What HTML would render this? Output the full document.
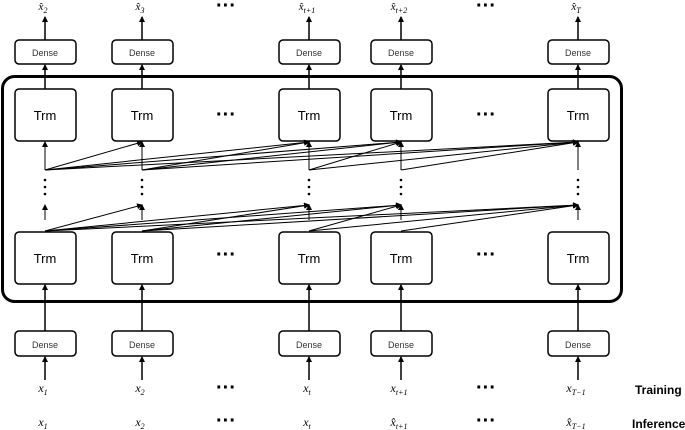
<!DOCTYPE html>
<html><head><style>body{margin:0;background:#fff}svg{display:block}</style></head><body>
<svg width="685" height="430" viewBox="0 0 685 430" xmlns="http://www.w3.org/2000/svg" font-family="Liberation Sans, sans-serif">
<defs><marker id="a" markerWidth="6" markerHeight="6" refX="5" refY="3" orient="auto" markerUnits="userSpaceOnUse"><path d="M0,0L6,3L0,6z" fill="#000"/></marker></defs>
<rect x="2.5" y="76.5" width="619" height="225" rx="12" fill="none" stroke="#000" stroke-width="3"/>
<g stroke="#000" fill="#fff" stroke-width="1.5">
<rect x="15" y="40" width="61" height="24" rx="4"/><rect x="112" y="40" width="61" height="24" rx="4"/><rect x="279" y="40" width="61" height="24" rx="4"/><rect x="371" y="40" width="61" height="24" rx="4"/><rect x="548" y="40" width="61" height="24" rx="4"/>
<rect x="15" y="89" width="61" height="52" rx="4"/><rect x="112" y="89" width="61" height="52" rx="4"/><rect x="279" y="89" width="61" height="52" rx="4"/><rect x="371" y="89" width="61" height="52" rx="4"/><rect x="548" y="89" width="61" height="52" rx="4"/>
<rect x="15" y="232" width="61" height="52" rx="4"/><rect x="112" y="232" width="61" height="52" rx="4"/><rect x="279" y="232" width="61" height="52" rx="4"/><rect x="371" y="232" width="61" height="52" rx="4"/><rect x="548" y="232" width="61" height="52" rx="4"/>
<rect x="15" y="331" width="61" height="25" rx="4"/><rect x="112" y="331" width="61" height="25" rx="4"/><rect x="279" y="331" width="61" height="25" rx="4"/><rect x="371" y="331" width="61" height="25" rx="4"/><rect x="548" y="331" width="61" height="25" rx="4"/>
</g>
<g stroke="#000" stroke-width="1.5" marker-end="url(#a)">
<line x1="45" y1="40" x2="45" y2="17"/><line x1="142" y1="40" x2="142" y2="17"/><line x1="309" y1="40" x2="309" y2="17"/><line x1="401" y1="40" x2="401" y2="17"/><line x1="578" y1="40" x2="578" y2="17"/>
<line x1="45" y1="89" x2="45" y2="65"/><line x1="142" y1="89" x2="142" y2="65"/><line x1="309" y1="89" x2="309" y2="65"/><line x1="401" y1="89" x2="401" y2="65"/><line x1="578" y1="89" x2="578" y2="65"/>
<line x1="45" y1="331" x2="45" y2="285"/><line x1="142" y1="331" x2="142" y2="285"/><line x1="309" y1="331" x2="309" y2="285"/><line x1="401" y1="331" x2="401" y2="285"/><line x1="578" y1="331" x2="578" y2="285"/>
<line x1="45" y1="380" x2="45" y2="357"/><line x1="142" y1="380" x2="142" y2="357"/><line x1="309" y1="380" x2="309" y2="357"/><line x1="401" y1="380" x2="401" y2="357"/><line x1="578" y1="380" x2="578" y2="357"/>
</g>
<g stroke="#000" stroke-width="1" marker-end="url(#a)">
<line x1="45" y1="170" x2="45" y2="142"/><line x1="142" y1="170" x2="142" y2="142"/><line x1="309" y1="170" x2="309" y2="142"/><line x1="401" y1="170" x2="401" y2="142"/><line x1="578" y1="170" x2="578" y2="142"/>
<line x1="45" y1="220" x2="45" y2="205"/><line x1="142" y1="220" x2="142" y2="205"/><line x1="309" y1="220" x2="309" y2="205"/><line x1="401" y1="220" x2="401" y2="205"/><line x1="578" y1="220" x2="578" y2="205"/>
<line x1="45" y1="170" x2="142" y2="142"/><line x1="45" y1="170" x2="309" y2="142"/><line x1="45" y1="170" x2="401" y2="142"/><line x1="45" y1="170" x2="578" y2="142"/>
<line x1="142" y1="170" x2="309" y2="142"/><line x1="142" y1="170" x2="401" y2="142"/><line x1="142" y1="170" x2="578" y2="142"/>
<line x1="309" y1="170" x2="401" y2="142"/><line x1="309" y1="170" x2="578" y2="142"/><line x1="401" y1="170" x2="578" y2="142"/>
<line x1="45" y1="231" x2="142" y2="205"/><line x1="45" y1="231" x2="309" y2="205"/><line x1="45" y1="231" x2="401" y2="205"/><line x1="45" y1="231" x2="578" y2="205"/>
<line x1="142" y1="231" x2="309" y2="205"/><line x1="142" y1="231" x2="401" y2="205"/><line x1="142" y1="231" x2="578" y2="205"/>
<line x1="309" y1="231" x2="401" y2="205"/><line x1="309" y1="231" x2="578" y2="205"/><line x1="401" y1="231" x2="578" y2="205"/>
</g>
<g fill="#000">
<circle cx="45" cy="180" r="1.3"/><circle cx="45" cy="187" r="1.3"/><circle cx="45" cy="194" r="1.3"/>
<circle cx="142" cy="180" r="1.3"/><circle cx="142" cy="187" r="1.3"/><circle cx="142" cy="194" r="1.3"/>
<circle cx="309" cy="180" r="1.3"/><circle cx="309" cy="187" r="1.3"/><circle cx="309" cy="194" r="1.3"/>
<circle cx="401" cy="180" r="1.3"/><circle cx="401" cy="187" r="1.3"/><circle cx="401" cy="194" r="1.3"/>
<circle cx="578" cy="180" r="1.3"/><circle cx="578" cy="187" r="1.3"/><circle cx="578" cy="194" r="1.3"/>
</g>
<g font-size="20" text-anchor="middle" font-weight="bold">
<text x="226" y="12">···</text><text x="486" y="12">···</text>
<text x="226" y="121">···</text><text x="486" y="121">···</text>
<text x="226" y="261">···</text><text x="486" y="261">···</text>
<text x="226" y="394">···</text><text x="486" y="394">···</text>
<text x="226" y="427">···</text><text x="486" y="427">···</text>
</g>
<g font-size="9" text-anchor="middle" fill="#333">
<text x="45" y="56">Dense</text><text x="142" y="56">Dense</text><text x="309" y="56">Dense</text><text x="401" y="56">Dense</text><text x="578" y="56">Dense</text>
<text x="45" y="348">Dense</text><text x="142" y="348">Dense</text><text x="309" y="348">Dense</text><text x="401" y="348">Dense</text><text x="578" y="348">Dense</text>
</g>
<g font-size="13" text-anchor="middle">
<text x="45" y="120">Trm</text><text x="142" y="120">Trm</text><text x="309" y="120">Trm</text><text x="401" y="120">Trm</text><text x="578" y="120">Trm</text>
<text x="45" y="263">Trm</text><text x="142" y="263">Trm</text><text x="309" y="263">Trm</text><text x="401" y="263">Trm</text><text x="578" y="263">Trm</text>
</g>
<g font-size="12" font-style="italic" text-anchor="middle" font-family="Liberation Serif, serif">
<text x="43" y="10" font-size="11">x̂<tspan font-size="8" dy="3">2</tspan></text>
<text x="140" y="10" font-size="11">x̂<tspan font-size="8" dy="3">3</tspan></text>
<text x="307" y="10" font-size="11">x̂<tspan font-size="8" dy="3">t+1</tspan></text>
<text x="399" y="10" font-size="11">x̂<tspan font-size="8" dy="3">t+2</tspan></text>
<text x="576" y="10" font-size="11">x̂<tspan font-size="8" dy="3">T</tspan></text>
<text x="43" y="392">x<tspan font-size="8" dy="3">1</tspan></text>
<text x="140" y="392">x<tspan font-size="8" dy="3">2</tspan></text>
<text x="307" y="392">x<tspan font-size="8" dy="3">t</tspan></text>
<text x="399" y="392">x<tspan font-size="8" dy="3">t+1</tspan></text>
<text x="576" y="392">x<tspan font-size="8" dy="3">T−1</tspan></text>
<text x="43" y="426">x<tspan font-size="8" dy="3">1</tspan></text>
<text x="140" y="426">x<tspan font-size="8" dy="3">2</tspan></text>
<text x="307" y="426">x<tspan font-size="8" dy="3">t</tspan></text>
<text x="399" y="426">x̂<tspan font-size="8" dy="3">t+1</tspan></text>
<text x="576" y="426">x̂<tspan font-size="8" dy="3">T−1</tspan></text>
</g>
<text x="635" y="394" font-size="12" font-weight="bold">Training</text>
<text x="632" y="428" font-size="12" font-weight="bold">Inference</text>
</svg>
</body></html>
